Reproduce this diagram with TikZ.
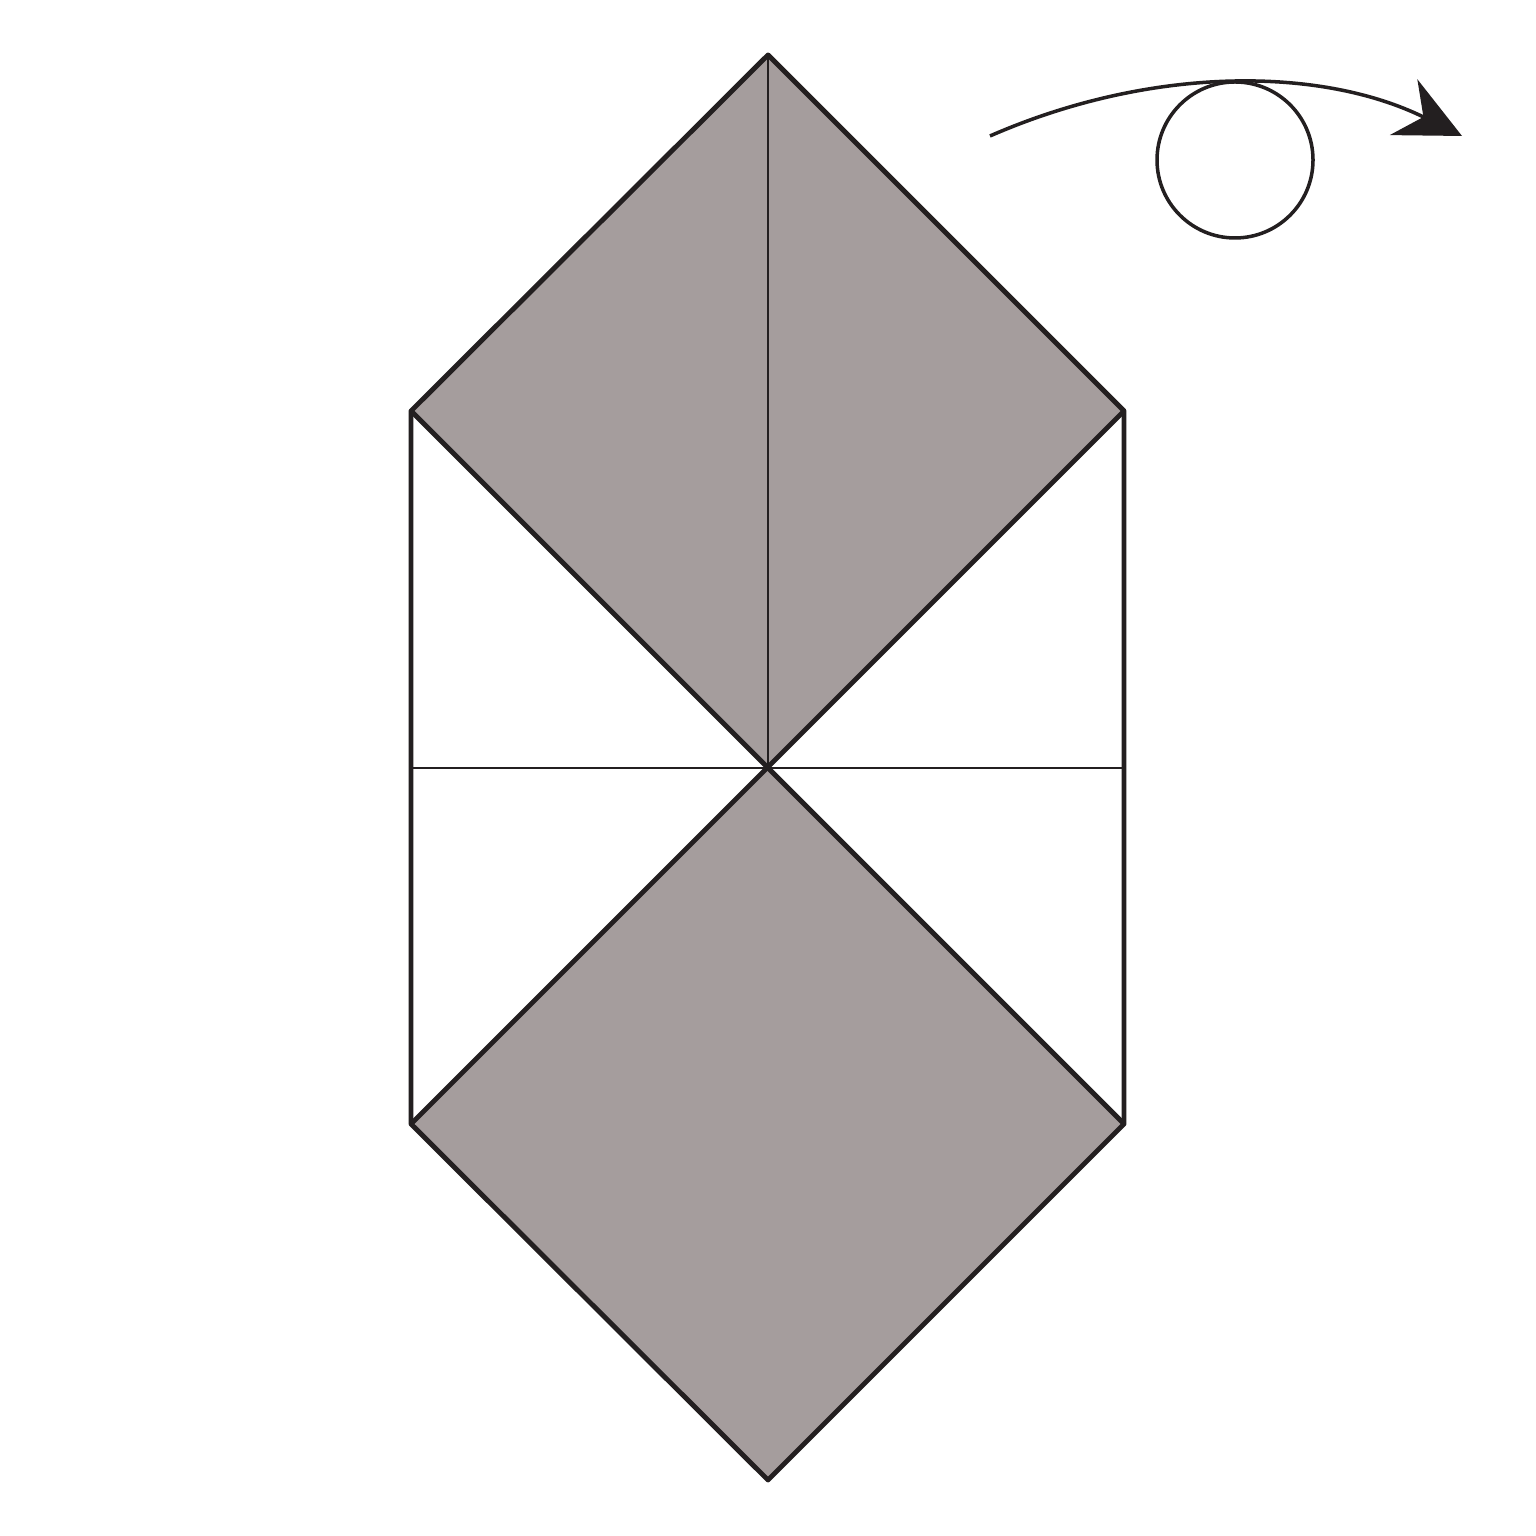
\documentclass[tikz,border=0pt]{standalone}
\usepackage{tikz}
\usetikzlibrary{arrows.meta}
\definecolor{papergrey}{RGB}{165,157,157}
\definecolor{inkblack}{RGB}{35,31,32}

\begin{document}
\begin{tikzpicture}[line join=round, draw=inkblack]%,cap=round]
  \useasboundingbox (0,0) rectangle (15.36,15.36);
  \coordinate (T) at (7.68,14.81);
  \coordinate (LT) at (4.11,11.25);
  \coordinate (RT) at (11.24,11.25);
  \coordinate (C) at (7.68,7.68);
  \coordinate (LB) at (4.11,4.12);
  \coordinate (RB) at (11.24,4.12);
  \coordinate (B) at (7.68,0.56);
  \coordinate (LM) at (4.11,7.68);
  \coordinate (RM) at (11.24,7.68);
  \fill[papergrey] (T) -- (RT) -- (C) -- (LT) -- cycle;
  \fill[papergrey] (C) -- (RB) -- (B) -- (LB) -- cycle;
  \draw[inkblack, line width=0.8pt] (T) -- (C);
  \draw[inkblack, line width=0.8pt] (LM) -- (RM);
  \draw[inkblack, line width=1.4pt] (LT) -- (T) -- (RT) -- (RB) -- (B) -- (LB) -- cycle;
  \draw[inkblack, line width=1.4pt] (LT) -- (RB);
  \draw[inkblack, line width=1.4pt] (RT) -- (LB);
  % turn over
  \node[draw=inkblack, circle, line width=1pt, minimum size=1.56cm, inner sep=0pt] (turn) at (12.35,13.76) {};
  \coordinate (arcstart) at (9.90,14.00);
  \coordinate (arcend) at (14.62,14.00);
  \draw[inkblack, line width=1pt, -{Stealth[length=0.65cm,width=0.62cm,inset=0.22cm]}] (arcstart) .. controls (11.5,14.70) and (13.2,14.70) .. (arcend);
\end{tikzpicture}
\end{document}
